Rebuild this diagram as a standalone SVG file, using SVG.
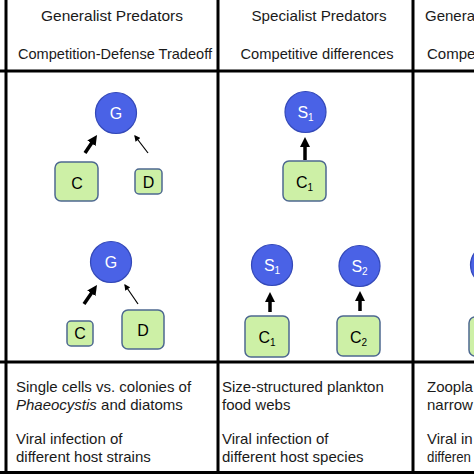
<svg xmlns="http://www.w3.org/2000/svg" width="474" height="474" viewBox="0 0 474 474">
<style>
.t{font-family:"Liberation Sans",Arial,sans-serif;font-size:15px;fill:#1a1a1a}
.c{text-anchor:middle}
.grid{stroke:#000;stroke-width:3;fill:none}
.pred{fill:#4a62e6;stroke:#3348b8;stroke-width:1.2}
.prey{fill:#cdf0a6;stroke:#4d6890;stroke-width:1.5}
.pl{font-family:"Liberation Sans",Arial,sans-serif;font-size:16px;fill:#fff;text-anchor:middle}
.yl{font-family:"Liberation Sans",Arial,sans-serif;font-size:16px;fill:#000;text-anchor:middle}
.sub{font-size:10px}
.thick{stroke:#000;stroke-width:3.5;fill:none}
.thin{stroke:#000;stroke-width:1.2;fill:none}
</style>
<defs>
<marker id="ahThick" viewBox="0 0 10 10" markerUnits="userSpaceOnUse" markerWidth="10" markerHeight="10" refX="4" refY="5" orient="auto">
<path d="M0,0 L10,5 L0,10 z" fill="#000"/>
</marker>
<marker id="ahThin" viewBox="0 0 10 10" markerUnits="userSpaceOnUse" markerWidth="7" markerHeight="6" refX="8" refY="5" orient="auto">
<path d="M0,0 L10,5 L0,10 z" fill="#000"/>
</marker>
</defs>
<rect width="474" height="474" fill="#fff"/>
<g id="grid">
<line class="grid" x1="0" y1="71" x2="474" y2="71"/>
<line class="grid" x1="0" y1="362" x2="474" y2="362"/>
<line class="grid" x1="0" y1="472.5" x2="474" y2="472.5"/>
<line class="grid" x1="6" y1="0" x2="6" y2="474"/>
<line class="grid" x1="218" y1="0" x2="218" y2="474"/>
<line class="grid" x1="413" y1="0" x2="413" y2="474"/>
</g>
<g id="headers">
<text class="t c" x="112" y="21" textLength="142" lengthAdjust="spacingAndGlyphs">Generalist Predators</text>
<text class="t c" x="115" y="59" textLength="194" lengthAdjust="spacingAndGlyphs">Competition-Defense Tradeoff</text>
<text class="t c" x="319" y="21" textLength="135" lengthAdjust="spacingAndGlyphs">Specialist Predators</text>
<text class="t c" x="317" y="59" textLength="153" lengthAdjust="spacingAndGlyphs">Competitive differences</text>
<text class="t" x="425" y="21">Genera</text>
<text class="t" x="427" y="59">Compe</text>
</g>
<g id="connectors">
<path class="thick" d="M85,153 L93.7,140" marker-end="url(#ahThick)"/>
<path class="thin" d="M148,153 L135,136" marker-end="url(#ahThin)"/>
<path class="thick" d="M84,304 L93.6,290" marker-end="url(#ahThick)"/>
<path class="thin" d="M138,304 L125,285" marker-end="url(#ahThin)"/>
<path class="thick" d="M305,160 L305,143" marker-end="url(#ahThick)"/>
<path class="thick" d="M270,312 L270,298" marker-end="url(#ahThick)"/>
<path class="thick" d="M360,311 L360,297" marker-end="url(#ahThick)"/>
</g>
<g id="G1"><circle class="pred" cx="116" cy="113" r="20.5"/><text class="pl" x="116" y="119">G</text></g>
<g id="C1a"><rect class="prey" x="55" y="162" width="43" height="39" rx="6"/><text class="yl" x="77" y="189">C</text></g>
<g id="D1a"><rect class="prey" x="135" y="169" width="27" height="25" rx="4"/><text class="yl" x="148.5" y="188">D</text></g>
<g id="G2"><circle class="pred" cx="111" cy="262" r="20.5"/><text class="pl" x="111" y="268">G</text></g>
<g id="C1b"><rect class="prey" x="67" y="321" width="26" height="25" rx="4"/><text class="yl" x="80" y="339">C</text></g>
<g id="D1b"><rect class="prey" x="122" y="310" width="42" height="39" rx="6"/><text class="yl" x="143" y="336">D</text></g>
<g id="S1a"><circle class="pred" cx="305.5" cy="112" r="20.5"/><text class="pl" x="305.5" y="117.5">S<tspan class="sub" dy="3">1</tspan></text></g>
<g id="C1c"><rect class="prey" x="283" y="161" width="43" height="40" rx="6"/><text class="yl" x="304.5" y="188">C<tspan class="sub" dy="3">1</tspan></text></g>
<g id="S1b"><circle class="pred" cx="272" cy="265" r="20.5"/><text class="pl" x="272" y="270.5">S<tspan class="sub" dy="3">1</tspan></text></g>
<g id="C1d"><rect class="prey" x="245" y="316" width="44" height="41" rx="6"/><text class="yl" x="267" y="343">C<tspan class="sub" dy="3">1</tspan></text></g>
<g id="S2b"><circle class="pred" cx="359.5" cy="266" r="20.5"/><text class="pl" x="359.5" y="271.5">S<tspan class="sub" dy="3">2</tspan></text></g>
<g id="C2d"><rect class="prey" x="337" y="316" width="43" height="40" rx="6"/><text class="yl" x="358.5" y="343">C<tspan class="sub" dy="3">2</tspan></text></g>
<g id="G3"><circle class="pred" cx="491" cy="265" r="20.5"/></g>
<g id="C3"><rect class="prey" x="469" y="317" width="43" height="39" rx="6"/></g>
<g id="examples">
<text class="t" x="16" y="392">Single cells vs. colonies of</text>
<text class="t" x="16" y="410"><tspan font-style="italic">Phaeocystis</tspan> and diatoms</text>
<text class="t" x="16" y="444">Viral infection of</text>
<text class="t" x="16" y="462">different host strains</text>
<text class="t" x="222" y="392">Size-structured plankton</text>
<text class="t" x="222" y="410">food webs</text>
<text class="t" x="222" y="444">Viral infection of</text>
<text class="t" x="222" y="462">different host species</text>
<text class="t" x="427" y="392">Zoopla</text>
<text class="t" x="427" y="410">narrow</text>
<text class="t" x="427" y="444">Viral in</text>
<text class="t" x="427" y="462" textLength="44" lengthAdjust="spacingAndGlyphs">differen</text>
</g>
</svg>
